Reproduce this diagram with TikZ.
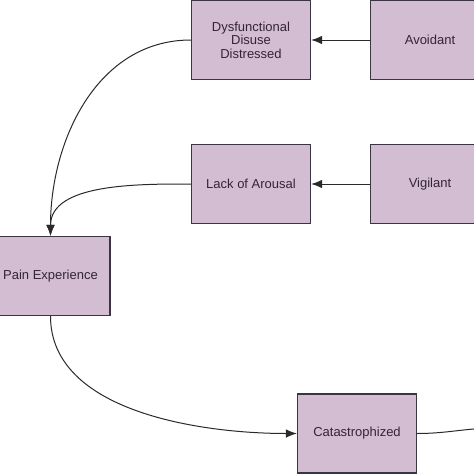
\documentclass[tikz,border=0pt]{standalone}
\usepackage{fontspec}
\setmainfont{Liberation Sans}
\usetikzlibrary{arrows.meta}
\definecolor{boxfill}{HTML}{D3BDD3}
\definecolor{boxdraw}{HTML}{3A3540}
\definecolor{boxtext}{HTML}{33243A}
\definecolor{linecol}{HTML}{2A2A2A}
\tikzset{
  stagebox/.style={draw=boxdraw, fill=boxfill, line width=1.2pt, minimum width=119pt, minimum height=79pt, inner sep=0pt, text=boxtext, align=center, font=\fontsize{13}{13.5}\selectfont},
  conn/.style={draw=linecol, line width=1pt},
  arr/.style={conn, -{Latex[length=11pt,width=8.5pt]}}
}
\begin{document}
\begin{tikzpicture}[x=1pt,y=-1pt]
\useasboundingbox (0,0) rectangle (474,474);
\fill[white] (0,0) rectangle (474,474);
\clip (0,0) rectangle (474,474);
\node[stagebox] (dys) at (251,40) {Dysfunctional\\Disuse\\Distressed};
\node[stagebox] (avo) at (430,40) {Avoidant};
\node[stagebox] (lack) at (251,184) {Lack of Arousal};
\node[stagebox] (vig) at (430,184) {Vigilant};
\node[stagebox] (pain) at (50.5,276) {Pain Experience};
\node[stagebox] (cat) at (357,433.5) {Catastrophized};
\coordinate (out) at (490,428);
\draw[arr] (avo.west) -- (dys.east);
\draw[arr] (vig.west) -- (lack.east);
\draw[arr] (dys.west) to[out=180,in=90,looseness=1.0] (pain.north);
\draw[arr] (lack.west) to[out=180,in=90,looseness=0.9] (pain.north);
\draw[arr] (pain.south) to[out=270,in=180,looseness=0.9] (cat.west);
\draw[conn] (cat.east) to[out=0,in=182] (out);
\end{tikzpicture}
\end{document}
